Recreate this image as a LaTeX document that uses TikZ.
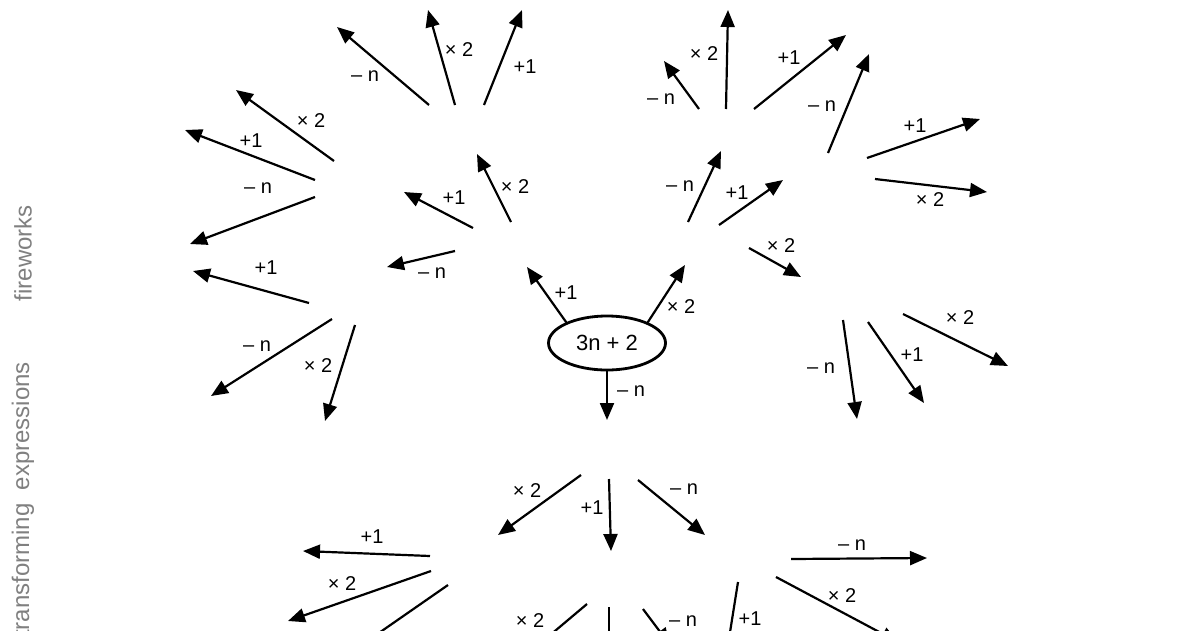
\documentclass[tikz,border=0pt]{standalone}
\usepackage{fontspec}
\setmainfont{Liberation Sans}
\usetikzlibrary{arrows.meta,shapes.geometric}
\tikzset{
  fwarrow/.style={line width=2.2pt,-{Triangle[length=17pt,width=14pt]}},
  lbl/.style={font=\fontsize{20}{20}\selectfont,inner sep=0pt},
  side/.style={font=\fontsize{24}{24}\selectfont,text=black!50,rotate=90,inner sep=0pt},
}
\newcommand\fw[5]{%
  \draw[fwarrow] (#1) coordinate (#4s) -- (#2) coordinate (#4t);
  \node[lbl] (#4l) at (#3) {#5};}
\begin{document}
\begin{tikzpicture}[x=1pt,y=-1pt]
\useasboundingbox (0,0) rectangle (1200,630);
\fill[white] (0,0) rectangle (1200,630);
\clip (0,0) rectangle (1200,630);
% side titles
\node[side,anchor=east] (t1) at (23,205) {fireworks};
\node[side,anchor=east] (t2) at (23,362) {transforming\ \ expressions};
% center
\node[draw,ellipse,line width=2.8pt,minimum width=117pt,minimum height=54pt,inner sep=0pt,font=\fontsize{22}{22}\selectfont] (c) at (607,343) {3n + 2};
\draw[fwarrow] (c.153) -- (527,267) coordinate (c1t);
\node[lbl] (c1l) at (566,293) {+1};
\draw[fwarrow] (c.27) -- (685,265) coordinate (c2t);
\node[lbl] (c2l) at (681,307) {× 2};
\draw[fwarrow] (c.south) -- (607,420) coordinate (c3t);
\node[lbl] (c3l) at (631,391) {– n};
% group A
\fw{511,222}{477,154}{515,187}{a1}{× 2}
\fw{473,228}{404,192}{454,198}{a2}{+1}
\fw{455,251}{387,267}{432,273}{a3}{– n}
% group B
\fw{429,105}{337,27}{365,76}{b1}{– n}
\fw{455,105}{428,10}{459,50}{b2}{× 2}
\fw{484,105}{522,10}{525,67}{b3}{+1}
% group C
\fw{334,161}{236,90}{311,121}{cc1}{× 2}
\fw{315,180}{185,130}{251,141}{cc2}{+1}
\fw{315,197}{190,244}{258,188}{cc3}{– n}
% group D
\fw{309,303}{193,271}{266,268}{d1}{+1}
\fw{332,319}{211,396}{257,346}{d2}{– n}
\fw{355,325}{325,421}{318,366}{d3}{× 2}
% group E
\fw{688,222}{721,151}{680,186}{e1}{– n}
\fw{719,225}{783,180}{737,193}{e2}{+1}
\fw{749,248}{801,277}{781,246}{e3}{× 2}
% group F
\fw{699,109}{664,61}{661,99}{f1}{– n}
\fw{726,109}{728,10}{704,54}{f2}{× 2}
\fw{754,109}{846,35}{789,58}{f3}{+1}
% group G
\fw{828,153}{869,54}{822,106}{g1}{– n}
\fw{867,158}{980,119}{915,126}{g2}{+1}
\fw{875,179}{987,192}{930,200}{g3}{× 2}
% group H
\fw{843,320}{857,419}{821,368}{h1}{– n}
\fw{868,322}{924,403}{912,355}{h2}{+1}
\fw{903,314}{1008,366}{960,318}{h3}{× 2}
% group I
\fw{581,475}{498,535}{527,491}{i1}{× 2}
\fw{609,479}{611,551}{592,508}{i2}{+1}
\fw{638,480}{705,535}{684,489}{i3}{– n}
% group J
\fw{430,556}{303,551}{372,537}{j1}{+1}
\fw{431,571}{288,621}{342,584}{j2}{× 2}
\fw{448,585}{340,660}{300,700}{j3}{}
% group K
\fw{791,559}{927,558}{852,545}{k1}{– n}
\fw{776,577}{898,642}{842,596}{k2}{× 2}
\fw{738,582}{724,670}{750,619}{k3}{+1}
% group L
\fw{587,604}{530,652}{530,621}{l1}{× 2}
\fw{609,607}{609,680}{640,700}{l2}{}
\fw{643,609}{670,645}{683,621}{l3}{– n}
\end{tikzpicture}
\end{document}
